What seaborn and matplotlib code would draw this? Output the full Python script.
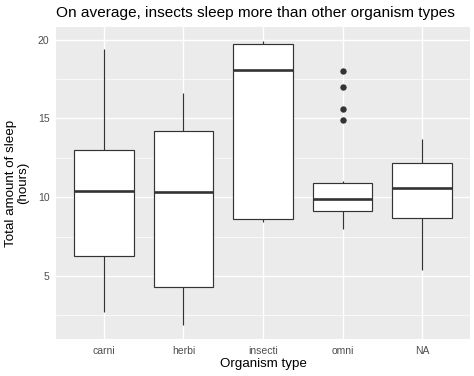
import matplotlib
matplotlib.use("Agg")
import matplotlib.pyplot as plt
import seaborn as sns
import pandas as pd
from matplotlib.ticker import MultipleLocator

carni = [12.1, 8.7, 10.1, 17.4, 12.5, 2.7, 6.2, 19.4, 11.0, 10.4, 13.5, 3.5,
         5.6, 5.2, 6.3, 12.5, 9.8, 15.8, 14.5]
herbi = [14.4, 4.0, 14.4, 3.0, 5.3, 9.4, 12.5, 5.3, 3.9, 2.9, 3.1, 14.9, 1.9,
         6.3, 9.5, 3.3, 14.2, 14.3, 12.8, 12.5, 14.6, 11.1, 13.0, 3.8, 15.8,
         4.4, 16.6, 13.8, 15.9, 8.4, 7.7, 11.3]
insecti = [19.7, 19.9, 18.1, 8.4, 8.6]
omni = [17.0, 14.9, 10.0, 10.3, 8.3, 9.1, 18.0, 10.1, 10.9, 9.8, 8.0, 10.1,
        9.4, 11.0, 8.7, 9.6, 9.7, 8.9, 9.1, 15.6]
na_vore = [7.0, 11.5, 10.3, 12.8, 10.6, 13.7, 5.4]

categories = ["carni", "herbi", "insecti", "omni", "NA"]
groups = [carni, herbi, insecti, omni, na_vore]

rows = []
for cat, vals in zip(categories, groups):
    for v in vals:
        rows.append({"vore": cat, "sleep_total": v})
df = pd.DataFrame(rows)

sns.set_theme(style="white")
plt.rcParams["font.family"] = ["Liberation Sans", "DejaVu Sans"]

fig = plt.figure(figsize=(4.74, 3.76), dpi=100)
ax = fig.add_axes([56 / 474, 1 - 339 / 376, (470 - 56) / 474, (339 - 27) / 376])
ax.set_facecolor("#EBEBEB")

line_c = "#333333"
sns.boxplot(data=df, x="vore", y="sleep_total", order=categories, ax=ax,
            width=0.75, color="white", linecolor=line_c, linewidth=0.85,
            whis=1.5, saturation=1, showcaps=False,
            medianprops=dict(color=line_c, linewidth=1.9),
            flierprops=dict(marker="o", markersize=4.6, markerfacecolor=line_c,
                            markeredgecolor=line_c, markeredgewidth=0))

ax.set_xlim(-0.6, 4.6)
ax.set_ylim(1.0, 20.8)
ax.yaxis.set_major_locator(MultipleLocator(5))
ax.yaxis.set_minor_locator(MultipleLocator(2.5))
ax.grid(which="major", color="white", linewidth=1.0)
ax.grid(which="minor", axis="y", color="white", linewidth=0.5)
ax.set_axisbelow(True)
for s in ax.spines.values():
    s.set_visible(False)

ax.tick_params(axis="both", which="major", length=2.8, width=0.8, color="#333333",
               labelsize=7.5, labelcolor="#4D4D4D", pad=2)
ax.tick_params(axis="y", which="minor", length=0)

ax.set_xlabel("Organism type", fontsize=9.6, color="black", labelpad=2)
ax.set_ylabel("Total amount of sleep\n(hours)", fontsize=9.6, color="black",
              labelpad=6, linespacing=1.0)
ax.set_title("On average, insects sleep more than other organism types",
             fontsize=11.1, color="black", loc="left", pad=7)

fig.savefig("out.png", dpi=100)
